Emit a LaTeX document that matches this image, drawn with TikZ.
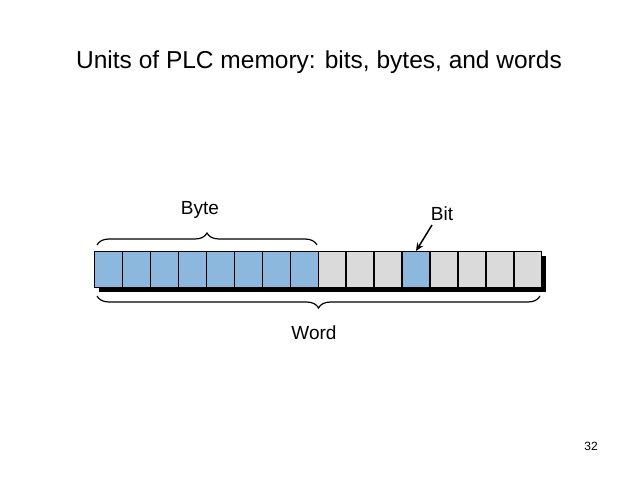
\documentclass[tikz,border=0pt]{standalone}
\usepackage{fontspec}
\setmainfont{Liberation Sans}
\usetikzlibrary{decorations.pathreplacing,arrows.meta}
\definecolor{cblue}{RGB}{141,184,222}
\definecolor{cgray}{RGB}{218,218,218}
\begin{document}
\begin{tikzpicture}[x=1pt,y=-1pt,
  cell/.style={draw=black,line width=1.4pt,minimum width=27.94pt,minimum height=36pt,inner sep=0pt,anchor=north west},
  lbl/.style={font=\fontsize{19}{22}\selectfont,inner sep=0pt},
  brc/.style={decorate,decoration={brace,amplitude=12pt},line width=1.2pt}]
\useasboundingbox (0,0) rectangle (638,478);
\fill[white] (0,0) rectangle (638,478);
\node[font=\fontsize{24.5}{28}\selectfont,inner sep=0pt] (title) at (319,62) {Units of PLC memory: bits, bytes, and words};
\fill[black] (99,256) rectangle (546,292);
\foreach \i in {0,...,15}{
  \pgfmathsetmacro{\xx}{94+27.94*\i}
  \ifnum\i<8 \def\cc{cblue}\else\ifnum\i=11 \def\cc{cblue}\else\def\cc{cgray}\fi\fi
  \node[cell,fill=\cc] (c\i) at (\xx,251) {};
}
\coordinate (b1) at (97,245); \coordinate (b2) at (317,245);
\draw[brc] (b1) -- (b2);
\coordinate (w1) at (540,296); \coordinate (w2) at (97,296);
\draw[brc] (w1) -- (w2);
\node[lbl] (byte) at (200,210) {Byte};
\node[lbl] (word) at (314,333) {Word};
\node[lbl] (bit) at (442,214) {Bit};
\draw[line width=1.5pt,-{Stealth[length=8pt,width=7pt]}] (432,225) -- (c11.north);
\node[font=\fontsize{12}{14}\selectfont,inner sep=0pt] (num) at (591,446) {32};
\end{tikzpicture}
\end{document}
